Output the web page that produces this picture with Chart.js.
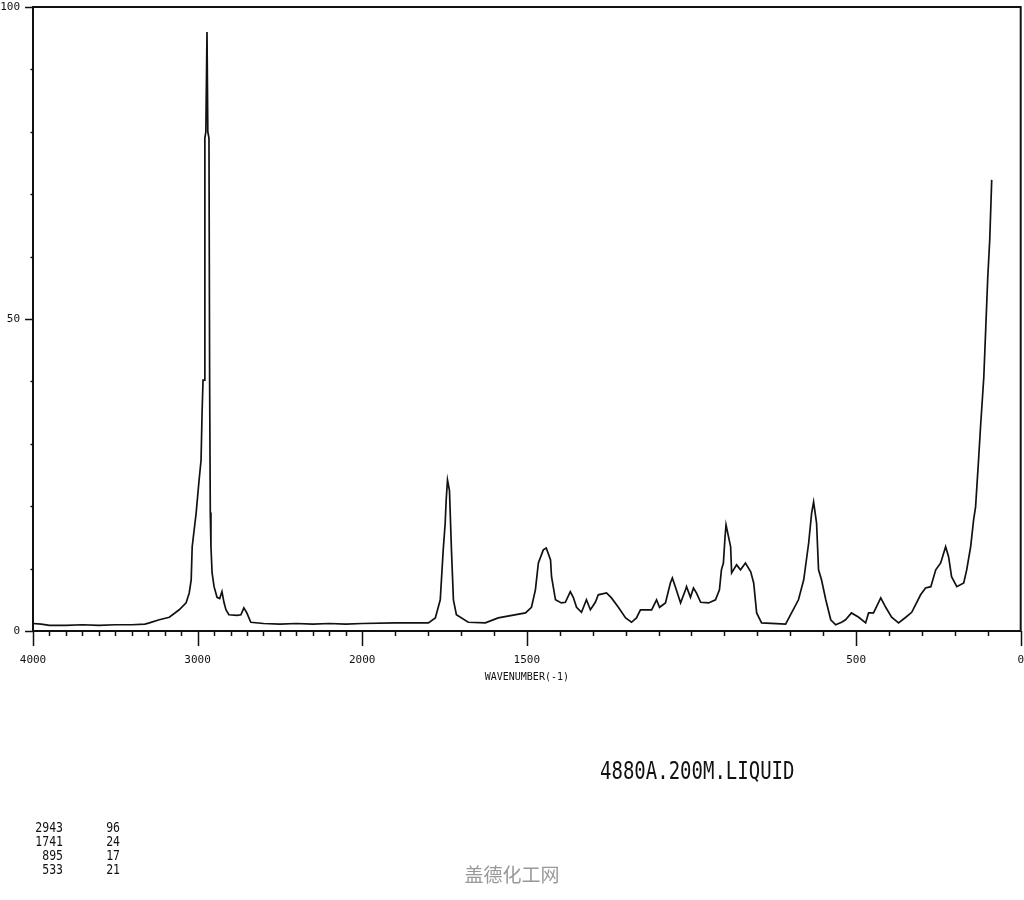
<!DOCTYPE html>
<html>
<head>
<meta charset="utf-8">
<script src="https://cdn.jsdelivr.net/npm/chart.js@4.4.1/dist/chart.umd.min.js"></script>
<style>
  html, body { margin: 0; padding: 0; background: #ffffff; }
  #wrap { position: relative; width: 1024px; height: 900px; overflow: hidden; }
  #c { position: absolute; left: 0; top: 0; }
  .mono { position: absolute; font-family: 'DejaVu Sans Mono', 'Liberation Mono', monospace; color: #111; white-space: nowrap; }
  #sample { left: 600px; top: 758px; font-size: 19px; line-height: 19px; transform: scaleY(1.3); transform-origin: 0 0; }
  .cell { font-size: 11.5px; line-height: 14px; text-align: right; transform: scaleY(1.25); transform-origin: 0 50%; }
  #wm { position: absolute; left: 0; width: 1024px; top: 863px; text-align: center; font-family: 'Noto Sans CJK SC', sans-serif; font-size: 19px; line-height: 22px; color: #999; }
</style>
</head>
<body>
<div id="wrap">
  <canvas id="c" width="1024" height="900"></canvas>
  <div id="sample" class="mono"></div>
  <div id="table"></div>
  <div id="wm"></div>
</div>
<script>
// ---- data ----
const wavenumbers = [4000,3950,3900,3800,3700,3600,3500,3400,3320,3293,3233,3172,3112,3070,3051,3039,3033,3009,2991,2979,2973,2967,2961,2956,2950,2943,2938,2931,2927,2923,2919,2912,2900,2882,2866,2852,2840,2828,2810,2760,2737,2719,2701,2677,2600,2500,2400,2300,2200,2100,2000,1900,1850,1799,1778,1763,1754,1748,1745,1741,1735,1729,1723,1714,1678,1626,1587,1504,1486,1474,1465,1450,1441,1428,1425,1413,1395,1383,1368,1359,1349,1334,1319,1307,1292,1283,1258,1243,1222,1200,1182,1167,1155,1121,1106,1097,1079,1064,1058,1046,1033,1018,1015,1003,994,985,972,948,927,915,909,903,898,895,881,878,863,851,836,820,811,802,787,714,696,675,659,644,635,629,620,614,605,592,577,562,544,532,514,492,471,462,447,425,410,392,371,349,331,304,289,273,258,243,228,219,210,194,173,164,152,143,137,128,122,112,106,100,94,88];
const intensities = [1.2,1.1,0.9,0.9,1.0,0.9,1.0,1.0,1.1,1.3,1.8,2.2,3.4,4.5,6.1,8.2,13.5,18.9,24.2,27.4,34.9,40.2,40.2,79,80,96,80,79,40,19,13.5,9.3,7.1,5.4,5.2,6.3,4.6,3.4,2.6,2.5,2.6,3.7,2.9,1.4,1.2,1.1,1.2,1.1,1.2,1.1,1.2,1.3,1.3,1.3,2.1,5.0,13.0,17.3,21.0,24.2,22.5,13.0,5.0,2.6,1.4,1.3,2.1,2.9,3.8,6.6,10.9,13.0,13.3,11.4,8.7,5.0,4.5,4.6,6.3,5.4,3.8,3.0,5.0,3.4,4.6,5.8,6.1,5.3,3.8,2.1,1.4,2.1,3.4,3.4,5.0,3.8,4.5,7.7,8.5,6.6,4.5,6.6,7.1,5.4,6.9,6.1,4.6,4.5,5.0,6.6,9.8,10.9,15.1,17.0,13.5,9.3,10.6,9.8,10.9,9.5,7.7,2.9,1.3,1.1,2.9,5.0,8.2,14.1,18.9,20.7,17.3,9.8,8.2,5.0,1.8,1.0,1.4,1.8,2.9,2.2,1.3,2.9,2.9,5.3,3.8,2.2,1.3,2.2,3.0,5.8,6.9,7.1,9.8,10.9,13.5,11.9,8.7,7.1,7.7,9.8,13.5,17.8,19.9,27.4,32.7,40.7,48.7,56.7,62.7,72.3];
const xTickLabels = [4000, 3000, 2000, 1500, 500, 0];
const yTickLabels = [0, 50, 100];
const xTitle = 'WAVENUMBER(-1)';
const sampleLabel = '4880A.200M.LIQUID';
const peakPositions = ['2943', '1741', '895', '533'];
const peakIntensities = ['96', '24', '17', '21'];
const watermark = '盖德化工网';

// Wavenumber axis has a scale change at 2000 (below 2000 the scale is doubled)
function toU(w) { return w >= 2000 ? (4000 - w) / 2 : 1000 + (2000 - w); }

const points = wavenumbers.map((w, i) => ({ x: toU(w), y: intensities[i] }));
const FONT = "'DejaVu Sans Mono', 'Liberation Mono', monospace";
const INK = '#111111';

const framePlugin = {
  id: 'frame',
  afterDraw(chart) {
    const { ctx, chartArea: a, scales } = chart;
    const xs = scales.x, ys = scales.y;
    ctx.save();
    ctx.strokeStyle = INK;
    ctx.lineWidth = 2;
    ctx.strokeRect(a.left, a.top, a.right - a.left, a.bottom - a.top);
    ctx.lineWidth = 1.5;
    ctx.beginPath();
    // x ticks every 100 cm-1
    for (let w = 4000; w >= 0; w -= 100) {
      const px = Math.round(xs.getPixelForValue(toU(w))) + 0.5;
      const len = xTickLabels.includes(w) ? 15 : 5;
      ctx.moveTo(px, a.bottom);
      ctx.lineTo(px, a.bottom + len);
    }
    // y ticks every 10
    for (let v = 0; v <= 100; v += 10) {
      const py = Math.round(ys.getPixelForValue(v)) + 0.5;
      const len = yTickLabels.includes(v) ? 8 : 2.5;
      ctx.moveTo(a.left - len, py);
      ctx.lineTo(a.left, py);
    }
    ctx.stroke();
    ctx.restore();
  }
};

new Chart(document.getElementById('c'), {
  type: 'line',
  data: {
    datasets: [{
      data: points,
      borderColor: INK,
      borderWidth: 1.7,
      pointRadius: 0,
      tension: 0,
      fill: false
    }]
  },
  options: {
    responsive: false,
    animation: false,
    events: [],
    layout: { padding: { left: 0, top: 7, right: 3, bottom: 217 } },
    plugins: { legend: { display: false }, tooltip: { enabled: false } },
    scales: {
      x: {
        type: 'linear',
        min: 0,
        max: 3000,
        afterFit(s) { s.height = 52; },
        afterBuildTicks(s) { s.ticks = xTickLabels.map(w => ({ value: toU(w) })); },
        grid: { display: false, drawTicks: true, tickLength: 23 },
        border: { display: false },
        ticks: {
          autoSkip: false,
          maxRotation: 0,
          padding: 0,
          color: INK,
          font: { family: FONT, size: 11 },
          callback: (v, i) => String(xTickLabels[i])
        },
        title: {
          display: true,
          text: xTitle,
          color: INK,
          font: { family: FONT, size: 10 },
          padding: 0
        }
      },
      y: {
        type: 'linear',
        min: 0,
        max: 100,
        afterFit(s) { s.width = 33; },
        afterBuildTicks(s) { s.ticks = yTickLabels.map(v => ({ value: v })); },
        grid: { display: false, drawTicks: true, tickLength: 13 },
        border: { display: false },
        ticks: {
          padding: 0,
          color: INK,
          font: { family: FONT, size: 11 },
          callback: (v) => String(v)
        }
      }
    }
  },
  plugins: [framePlugin]
});

// annotation texts
document.getElementById('sample').textContent = sampleLabel;
const table = document.getElementById('table');
peakPositions.forEach((p, i) => {
  const top = 820 + i * 14;
  const c1 = document.createElement('div');
  c1.className = 'mono cell';
  c1.style.left = '20px'; c1.style.width = '43px'; c1.style.top = top + 'px';
  c1.textContent = p;
  const c2 = document.createElement('div');
  c2.className = 'mono cell';
  c2.style.left = '80px'; c2.style.width = '40px'; c2.style.top = top + 'px';
  c2.textContent = peakIntensities[i];
  table.appendChild(c1); table.appendChild(c2);
});
document.getElementById('wm').textContent = watermark;
</script>
</body>
</html>
